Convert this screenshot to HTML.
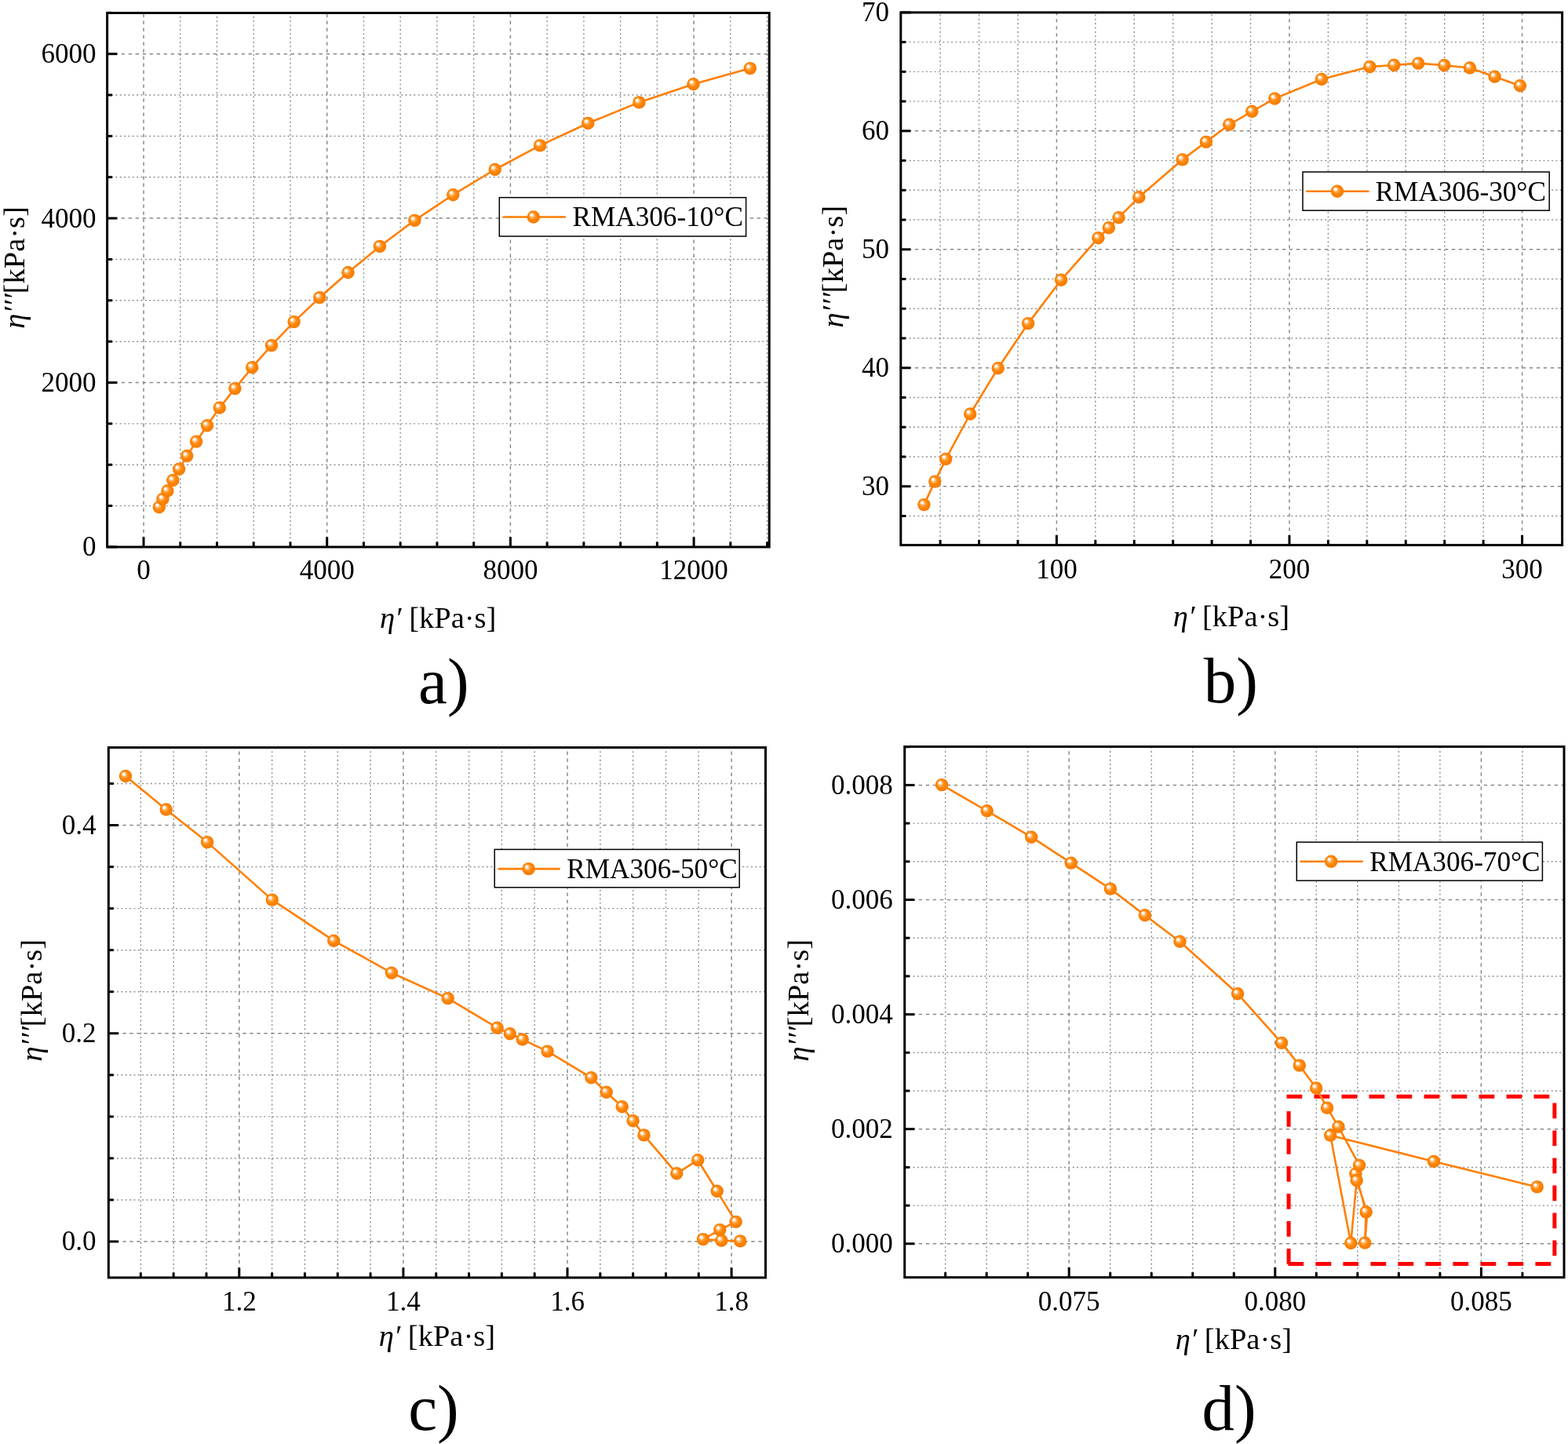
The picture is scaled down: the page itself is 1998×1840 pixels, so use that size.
<!DOCTYPE html>
<html><head><meta charset="utf-8"><title>Complex viscosity plots</title>
<style>
html,body{margin:0;padding:0;background:#fff;}
svg{display:block;}
text{font-family:"Liberation Serif","Times New Roman",serif;fill:#000;}
</style></head><body>
<svg width="1998" height="1840" viewBox="0 0 1998 1840">
<defs>
<radialGradient id="sg" cx="0.5" cy="0.5" r="0.5" fx="0.31" fy="0.3">
<stop offset="0" stop-color="#ffffff"/>
<stop offset="0.16" stop-color="#fffaf4"/>
<stop offset="0.4" stop-color="#ffa544"/>
<stop offset="0.62" stop-color="#ff8608"/>
<stop offset="1" stop-color="#f47a00"/>
</radialGradient>
<g id="mk"><circle r="8.2" fill="url(#sg)"/></g>
</defs>
<rect width="1998" height="1840" fill="#fff"/>
<g stroke="#949494" stroke-width="1.45" stroke-dasharray="2.1 3.25" fill="none"><line x1="229.74" y1="697" x2="229.74" y2="16.5"/><line x1="276.48" y1="697" x2="276.48" y2="16.5"/><line x1="323.22" y1="697" x2="323.22" y2="16.5"/><line x1="369.96" y1="697" x2="369.96" y2="16.5"/><line x1="463.44" y1="697" x2="463.44" y2="16.5"/><line x1="510.18" y1="697" x2="510.18" y2="16.5"/><line x1="556.92" y1="697" x2="556.92" y2="16.5"/><line x1="603.66" y1="697" x2="603.66" y2="16.5"/><line x1="697.14" y1="697" x2="697.14" y2="16.5"/><line x1="743.88" y1="697" x2="743.88" y2="16.5"/><line x1="790.62" y1="697" x2="790.62" y2="16.5"/><line x1="837.36" y1="697" x2="837.36" y2="16.5"/><line x1="930.84" y1="697" x2="930.84" y2="16.5"/><line x1="977.58" y1="697" x2="977.58" y2="16.5"/><line x1="136.6" y1="644.55" x2="980.2" y2="644.55"/><line x1="136.6" y1="592.2" x2="980.2" y2="592.2"/><line x1="136.6" y1="539.85" x2="980.2" y2="539.85"/><line x1="136.6" y1="435.15" x2="980.2" y2="435.15"/><line x1="136.6" y1="382.8" x2="980.2" y2="382.8"/><line x1="136.6" y1="330.45" x2="980.2" y2="330.45"/><line x1="136.6" y1="225.75" x2="980.2" y2="225.75"/><line x1="136.6" y1="173.4" x2="980.2" y2="173.4"/><line x1="136.6" y1="121.05" x2="980.2" y2="121.05"/><line x1="136.6" y1="16.35" x2="980.2" y2="16.35"/></g>
<g stroke="#8a8a8a" stroke-width="1.5" stroke-dasharray="4.4 4.6" fill="none"><line x1="183" y1="697" x2="183" y2="16.5"/><line x1="416.7" y1="697" x2="416.7" y2="16.5"/><line x1="650.4" y1="697" x2="650.4" y2="16.5"/><line x1="884.1" y1="697" x2="884.1" y2="16.5"/><line x1="136.6" y1="696.9" x2="980.2" y2="696.9"/><line x1="136.6" y1="487.5" x2="980.2" y2="487.5"/><line x1="136.6" y1="278.1" x2="980.2" y2="278.1"/><line x1="136.6" y1="68.7" x2="980.2" y2="68.7"/></g>
<polyline points="202.8,646.2 207.4,635.9 213.4,625.5 220.3,612 228.1,597.8 238.2,581 250.1,562.6 264,542.2 279.8,519.5 299.4,495.1 321.2,468.2 346,440.1 374.6,410.1 407.3,379.1 443.5,347.3 483.9,313.9 528.3,280.9 577.3,248.2 630.7,216 688.1,185.4 749.3,157 814.4,130.4 883.5,107.2 955.8,87.1" fill="none" stroke="#ff7f00" stroke-width="2.6" stroke-linejoin="round"/>
<use href="#mk" x="202.8" y="646.2"/>
<use href="#mk" x="207.4" y="635.9"/>
<use href="#mk" x="213.4" y="625.5"/>
<use href="#mk" x="220.3" y="612"/>
<use href="#mk" x="228.1" y="597.8"/>
<use href="#mk" x="238.2" y="581"/>
<use href="#mk" x="250.1" y="562.6"/>
<use href="#mk" x="264" y="542.2"/>
<use href="#mk" x="279.8" y="519.5"/>
<use href="#mk" x="299.4" y="495.1"/>
<use href="#mk" x="321.2" y="468.2"/>
<use href="#mk" x="346" y="440.1"/>
<use href="#mk" x="374.6" y="410.1"/>
<use href="#mk" x="407.3" y="379.1"/>
<use href="#mk" x="443.5" y="347.3"/>
<use href="#mk" x="483.9" y="313.9"/>
<use href="#mk" x="528.3" y="280.9"/>
<use href="#mk" x="577.3" y="248.2"/>
<use href="#mk" x="630.7" y="216"/>
<use href="#mk" x="688.1" y="185.4"/>
<use href="#mk" x="749.3" y="157"/>
<use href="#mk" x="814.4" y="130.4"/>
<use href="#mk" x="883.5" y="107.2"/>
<use href="#mk" x="955.8" y="87.1"/>
<rect x="136.6" y="16.5" width="843.6" height="680.5" fill="none" stroke="#000" stroke-width="3"/>
<g stroke="#000" stroke-width="3"><line x1="183" y1="697" x2="183" y2="684.3"/><line x1="416.7" y1="697" x2="416.7" y2="684.3"/><line x1="650.4" y1="697" x2="650.4" y2="684.3"/><line x1="884.1" y1="697" x2="884.1" y2="684.3"/><line x1="229.74" y1="697" x2="229.74" y2="690.5"/><line x1="276.48" y1="697" x2="276.48" y2="690.5"/><line x1="323.22" y1="697" x2="323.22" y2="690.5"/><line x1="369.96" y1="697" x2="369.96" y2="690.5"/><line x1="463.44" y1="697" x2="463.44" y2="690.5"/><line x1="510.18" y1="697" x2="510.18" y2="690.5"/><line x1="556.92" y1="697" x2="556.92" y2="690.5"/><line x1="603.66" y1="697" x2="603.66" y2="690.5"/><line x1="697.14" y1="697" x2="697.14" y2="690.5"/><line x1="743.88" y1="697" x2="743.88" y2="690.5"/><line x1="790.62" y1="697" x2="790.62" y2="690.5"/><line x1="837.36" y1="697" x2="837.36" y2="690.5"/><line x1="930.84" y1="697" x2="930.84" y2="690.5"/><line x1="977.58" y1="697" x2="977.58" y2="690.5"/><line x1="136.6" y1="696.9" x2="149.3" y2="696.9"/><line x1="136.6" y1="487.5" x2="149.3" y2="487.5"/><line x1="136.6" y1="278.1" x2="149.3" y2="278.1"/><line x1="136.6" y1="68.7" x2="149.3" y2="68.7"/><line x1="136.6" y1="644.55" x2="143.1" y2="644.55"/><line x1="136.6" y1="592.2" x2="143.1" y2="592.2"/><line x1="136.6" y1="539.85" x2="143.1" y2="539.85"/><line x1="136.6" y1="435.15" x2="143.1" y2="435.15"/><line x1="136.6" y1="382.8" x2="143.1" y2="382.8"/><line x1="136.6" y1="330.45" x2="143.1" y2="330.45"/><line x1="136.6" y1="225.75" x2="143.1" y2="225.75"/><line x1="136.6" y1="173.4" x2="143.1" y2="173.4"/><line x1="136.6" y1="121.05" x2="143.1" y2="121.05"/><line x1="136.6" y1="16.35" x2="143.1" y2="16.35"/></g>
<g font-size="35"><text x="183" y="738.1" text-anchor="middle">0</text><text x="416.7" y="738.1" text-anchor="middle">4000</text><text x="650.4" y="738.1" text-anchor="middle">8000</text><text x="884.1" y="738.1" text-anchor="middle">12000</text><text x="122.6" y="708.3" text-anchor="end">0</text><text x="122.6" y="498.9" text-anchor="end">2000</text><text x="122.6" y="289.5" text-anchor="end">4000</text><text x="122.6" y="80.1" text-anchor="end">6000</text></g>
<text x="484" y="800" font-size="38.5"><tspan font-style="italic">η′</tspan> [kPa·s]</text>
<text transform="translate(31,418.7) rotate(-90)" font-size="38.5"><tspan font-style="italic">η′′′</tspan>[kPa·s]</text>
<rect x="636.3" y="251.7" width="314.3" height="49.4" fill="#fff" stroke="#000" stroke-width="1.5"/>
<line x1="640.4" y1="276.5" x2="720.9" y2="276.5" stroke="#ff7f00" stroke-width="2.6"/>
<use href="#mk" x="679.8" y="276.5"/>
<text x="729.5" y="288.1" font-size="35.2">RMA306-10°C</text>
<text x="565.3" y="895.5" font-size="83" text-anchor="middle">a)</text>
<g stroke="#949494" stroke-width="1.45" stroke-dasharray="2.1 3.25" fill="none"><line x1="1198.11" y1="694.6" x2="1198.11" y2="15.9"/><line x1="1247.54" y1="694.6" x2="1247.54" y2="15.9"/><line x1="1296.97" y1="694.6" x2="1296.97" y2="15.9"/><line x1="1395.83" y1="694.6" x2="1395.83" y2="15.9"/><line x1="1445.26" y1="694.6" x2="1445.26" y2="15.9"/><line x1="1494.69" y1="694.6" x2="1494.69" y2="15.9"/><line x1="1544.12" y1="694.6" x2="1544.12" y2="15.9"/><line x1="1593.55" y1="694.6" x2="1593.55" y2="15.9"/><line x1="1692.41" y1="694.6" x2="1692.41" y2="15.9"/><line x1="1741.84" y1="694.6" x2="1741.84" y2="15.9"/><line x1="1791.27" y1="694.6" x2="1791.27" y2="15.9"/><line x1="1840.7" y1="694.6" x2="1840.7" y2="15.9"/><line x1="1890.13" y1="694.6" x2="1890.13" y2="15.9"/><line x1="1147.8" y1="53.64" x2="1990.6" y2="53.64"/><line x1="1147.8" y1="91.38" x2="1990.6" y2="91.38"/><line x1="1147.8" y1="129.12" x2="1990.6" y2="129.12"/><line x1="1147.8" y1="204.6" x2="1990.6" y2="204.6"/><line x1="1147.8" y1="242.34" x2="1990.6" y2="242.34"/><line x1="1147.8" y1="280.08" x2="1990.6" y2="280.08"/><line x1="1147.8" y1="355.56" x2="1990.6" y2="355.56"/><line x1="1147.8" y1="393.3" x2="1990.6" y2="393.3"/><line x1="1147.8" y1="431.04" x2="1990.6" y2="431.04"/><line x1="1147.8" y1="506.52" x2="1990.6" y2="506.52"/><line x1="1147.8" y1="544.26" x2="1990.6" y2="544.26"/><line x1="1147.8" y1="582" x2="1990.6" y2="582"/><line x1="1147.8" y1="657.48" x2="1990.6" y2="657.48"/></g>
<g stroke="#8a8a8a" stroke-width="1.5" stroke-dasharray="4.4 4.6" fill="none"><line x1="1346.4" y1="694.6" x2="1346.4" y2="15.9"/><line x1="1642.98" y1="694.6" x2="1642.98" y2="15.9"/><line x1="1939.56" y1="694.6" x2="1939.56" y2="15.9"/><line x1="1147.8" y1="15.9" x2="1990.6" y2="15.9"/><line x1="1147.8" y1="166.86" x2="1990.6" y2="166.86"/><line x1="1147.8" y1="317.82" x2="1990.6" y2="317.82"/><line x1="1147.8" y1="468.78" x2="1990.6" y2="468.78"/><line x1="1147.8" y1="619.74" x2="1990.6" y2="619.74"/></g>
<polyline points="1177.4,643.1 1191.3,613.6 1205.2,584.9 1236.2,527.5 1271.7,469.2 1310.1,412.1 1352.1,356.8 1399.4,303.2 1412.9,290.2 1425.5,277.2 1451.3,251.3 1506.6,203.4 1536.9,180.9 1566.3,158.8 1595.3,142 1624.3,125.6 1684,101 1745.4,85.1 1776.2,83 1807.2,80.6 1840.3,83.3 1872.9,86.5 1904.6,97.7 1936.9,109.3" fill="none" stroke="#ff7f00" stroke-width="2.6" stroke-linejoin="round"/>
<use href="#mk" x="1177.4" y="643.1"/>
<use href="#mk" x="1191.3" y="613.6"/>
<use href="#mk" x="1205.2" y="584.9"/>
<use href="#mk" x="1236.2" y="527.5"/>
<use href="#mk" x="1271.7" y="469.2"/>
<use href="#mk" x="1310.1" y="412.1"/>
<use href="#mk" x="1352.1" y="356.8"/>
<use href="#mk" x="1399.4" y="303.2"/>
<use href="#mk" x="1412.9" y="290.2"/>
<use href="#mk" x="1425.5" y="277.2"/>
<use href="#mk" x="1451.3" y="251.3"/>
<use href="#mk" x="1506.6" y="203.4"/>
<use href="#mk" x="1536.9" y="180.9"/>
<use href="#mk" x="1566.3" y="158.8"/>
<use href="#mk" x="1595.3" y="142"/>
<use href="#mk" x="1624.3" y="125.6"/>
<use href="#mk" x="1684" y="101"/>
<use href="#mk" x="1745.4" y="85.1"/>
<use href="#mk" x="1776.2" y="83"/>
<use href="#mk" x="1807.2" y="80.6"/>
<use href="#mk" x="1840.3" y="83.3"/>
<use href="#mk" x="1872.9" y="86.5"/>
<use href="#mk" x="1904.6" y="97.7"/>
<use href="#mk" x="1936.9" y="109.3"/>
<rect x="1147.8" y="15.9" width="842.8" height="678.7" fill="none" stroke="#000" stroke-width="3"/>
<g stroke="#000" stroke-width="3"><line x1="1346.4" y1="694.6" x2="1346.4" y2="681.9"/><line x1="1642.98" y1="694.6" x2="1642.98" y2="681.9"/><line x1="1939.56" y1="694.6" x2="1939.56" y2="681.9"/><line x1="1198.11" y1="694.6" x2="1198.11" y2="688.1"/><line x1="1247.54" y1="694.6" x2="1247.54" y2="688.1"/><line x1="1296.97" y1="694.6" x2="1296.97" y2="688.1"/><line x1="1395.83" y1="694.6" x2="1395.83" y2="688.1"/><line x1="1445.26" y1="694.6" x2="1445.26" y2="688.1"/><line x1="1494.69" y1="694.6" x2="1494.69" y2="688.1"/><line x1="1544.12" y1="694.6" x2="1544.12" y2="688.1"/><line x1="1593.55" y1="694.6" x2="1593.55" y2="688.1"/><line x1="1692.41" y1="694.6" x2="1692.41" y2="688.1"/><line x1="1741.84" y1="694.6" x2="1741.84" y2="688.1"/><line x1="1791.27" y1="694.6" x2="1791.27" y2="688.1"/><line x1="1840.7" y1="694.6" x2="1840.7" y2="688.1"/><line x1="1890.13" y1="694.6" x2="1890.13" y2="688.1"/><line x1="1147.8" y1="15.9" x2="1160.5" y2="15.9"/><line x1="1147.8" y1="166.86" x2="1160.5" y2="166.86"/><line x1="1147.8" y1="317.82" x2="1160.5" y2="317.82"/><line x1="1147.8" y1="468.78" x2="1160.5" y2="468.78"/><line x1="1147.8" y1="619.74" x2="1160.5" y2="619.74"/><line x1="1147.8" y1="53.64" x2="1154.3" y2="53.64"/><line x1="1147.8" y1="91.38" x2="1154.3" y2="91.38"/><line x1="1147.8" y1="129.12" x2="1154.3" y2="129.12"/><line x1="1147.8" y1="204.6" x2="1154.3" y2="204.6"/><line x1="1147.8" y1="242.34" x2="1154.3" y2="242.34"/><line x1="1147.8" y1="280.08" x2="1154.3" y2="280.08"/><line x1="1147.8" y1="355.56" x2="1154.3" y2="355.56"/><line x1="1147.8" y1="393.3" x2="1154.3" y2="393.3"/><line x1="1147.8" y1="431.04" x2="1154.3" y2="431.04"/><line x1="1147.8" y1="506.52" x2="1154.3" y2="506.52"/><line x1="1147.8" y1="544.26" x2="1154.3" y2="544.26"/><line x1="1147.8" y1="582" x2="1154.3" y2="582"/><line x1="1147.8" y1="657.48" x2="1154.3" y2="657.48"/></g>
<g font-size="35"><text x="1346.4" y="736.6" text-anchor="middle">100</text><text x="1642.98" y="736.6" text-anchor="middle">200</text><text x="1939.56" y="736.6" text-anchor="middle">300</text><text x="1133" y="27.3" text-anchor="end">70</text><text x="1133" y="178.26" text-anchor="end">60</text><text x="1133" y="329.22" text-anchor="end">50</text><text x="1133" y="480.18" text-anchor="end">40</text><text x="1133" y="631.14" text-anchor="end">30</text></g>
<text x="1494.8" y="798" font-size="38.5"><tspan font-style="italic">η′</tspan> [kPa·s]</text>
<text transform="translate(1074.4,417.5) rotate(-90)" font-size="38.5"><tspan font-style="italic">η′′′</tspan>[kPa·s]</text>
<rect x="1660" y="219.1" width="314.2" height="49.1" fill="#fff" stroke="#000" stroke-width="1.5"/>
<line x1="1664.2" y1="243.7" x2="1744.5" y2="243.7" stroke="#ff7f00" stroke-width="2.6"/>
<use href="#mk" x="1704" y="243.7"/>
<text x="1752.5" y="256.2" font-size="35.2">RMA306-30°C</text>
<text x="1568.3" y="895" font-size="83" text-anchor="middle">b)</text>
<g stroke="#949494" stroke-width="1.45" stroke-dasharray="2.1 3.25" fill="none"><line x1="179.34" y1="1628" x2="179.34" y2="952.5"/><line x1="221.16" y1="1628" x2="221.16" y2="952.5"/><line x1="262.98" y1="1628" x2="262.98" y2="952.5"/><line x1="346.62" y1="1628" x2="346.62" y2="952.5"/><line x1="388.44" y1="1628" x2="388.44" y2="952.5"/><line x1="430.26" y1="1628" x2="430.26" y2="952.5"/><line x1="472.08" y1="1628" x2="472.08" y2="952.5"/><line x1="555.72" y1="1628" x2="555.72" y2="952.5"/><line x1="597.54" y1="1628" x2="597.54" y2="952.5"/><line x1="639.36" y1="1628" x2="639.36" y2="952.5"/><line x1="681.18" y1="1628" x2="681.18" y2="952.5"/><line x1="764.82" y1="1628" x2="764.82" y2="952.5"/><line x1="806.64" y1="1628" x2="806.64" y2="952.5"/><line x1="848.46" y1="1628" x2="848.46" y2="952.5"/><line x1="890.28" y1="1628" x2="890.28" y2="952.5"/><line x1="138.3" y1="1528.95" x2="975.5" y2="1528.95"/><line x1="138.3" y1="1475.9" x2="975.5" y2="1475.9"/><line x1="138.3" y1="1422.85" x2="975.5" y2="1422.85"/><line x1="138.3" y1="1369.8" x2="975.5" y2="1369.8"/><line x1="138.3" y1="1263.7" x2="975.5" y2="1263.7"/><line x1="138.3" y1="1210.65" x2="975.5" y2="1210.65"/><line x1="138.3" y1="1157.6" x2="975.5" y2="1157.6"/><line x1="138.3" y1="1104.55" x2="975.5" y2="1104.55"/><line x1="138.3" y1="998.45" x2="975.5" y2="998.45"/></g>
<g stroke="#8a8a8a" stroke-width="1.5" stroke-dasharray="4.4 4.6" fill="none"><line x1="304.8" y1="1628" x2="304.8" y2="952.5"/><line x1="513.9" y1="1628" x2="513.9" y2="952.5"/><line x1="723" y1="1628" x2="723" y2="952.5"/><line x1="932.1" y1="1628" x2="932.1" y2="952.5"/><line x1="138.3" y1="1582" x2="975.5" y2="1582"/><line x1="138.3" y1="1316.75" x2="975.5" y2="1316.75"/><line x1="138.3" y1="1051.5" x2="975.5" y2="1051.5"/></g>
<polyline points="160,989 211.7,1031.5 264.1,1073.1 346.8,1146.6 425.3,1198.7 499,1239.7 570.7,1272.1 633.6,1309.7 649.8,1317.3 665.8,1324.5 697.6,1339.6 753.3,1373.2 772.7,1391.8 792.7,1410.2 806.6,1428.3 820.5,1446.4 862.3,1495.3 889.2,1478.2 913.7,1517.8 937.6,1556.9 917.3,1567.1 896,1579.1 919.3,1580.8 943.2,1581.4" fill="none" stroke="#ff7f00" stroke-width="2.6" stroke-linejoin="round"/>
<use href="#mk" x="160" y="989"/>
<use href="#mk" x="211.7" y="1031.5"/>
<use href="#mk" x="264.1" y="1073.1"/>
<use href="#mk" x="346.8" y="1146.6"/>
<use href="#mk" x="425.3" y="1198.7"/>
<use href="#mk" x="499" y="1239.7"/>
<use href="#mk" x="570.7" y="1272.1"/>
<use href="#mk" x="633.6" y="1309.7"/>
<use href="#mk" x="649.8" y="1317.3"/>
<use href="#mk" x="665.8" y="1324.5"/>
<use href="#mk" x="697.6" y="1339.6"/>
<use href="#mk" x="753.3" y="1373.2"/>
<use href="#mk" x="772.7" y="1391.8"/>
<use href="#mk" x="792.7" y="1410.2"/>
<use href="#mk" x="806.6" y="1428.3"/>
<use href="#mk" x="820.5" y="1446.4"/>
<use href="#mk" x="862.3" y="1495.3"/>
<use href="#mk" x="889.2" y="1478.2"/>
<use href="#mk" x="913.7" y="1517.8"/>
<use href="#mk" x="937.6" y="1556.9"/>
<use href="#mk" x="917.3" y="1567.1"/>
<use href="#mk" x="896" y="1579.1"/>
<use href="#mk" x="919.3" y="1580.8"/>
<use href="#mk" x="943.2" y="1581.4"/>
<rect x="138.3" y="952.5" width="837.2" height="675.5" fill="none" stroke="#000" stroke-width="3"/>
<g stroke="#000" stroke-width="3"><line x1="304.8" y1="1628" x2="304.8" y2="1615.3"/><line x1="513.9" y1="1628" x2="513.9" y2="1615.3"/><line x1="723" y1="1628" x2="723" y2="1615.3"/><line x1="932.1" y1="1628" x2="932.1" y2="1615.3"/><line x1="179.34" y1="1628" x2="179.34" y2="1621.5"/><line x1="221.16" y1="1628" x2="221.16" y2="1621.5"/><line x1="262.98" y1="1628" x2="262.98" y2="1621.5"/><line x1="346.62" y1="1628" x2="346.62" y2="1621.5"/><line x1="388.44" y1="1628" x2="388.44" y2="1621.5"/><line x1="430.26" y1="1628" x2="430.26" y2="1621.5"/><line x1="472.08" y1="1628" x2="472.08" y2="1621.5"/><line x1="555.72" y1="1628" x2="555.72" y2="1621.5"/><line x1="597.54" y1="1628" x2="597.54" y2="1621.5"/><line x1="639.36" y1="1628" x2="639.36" y2="1621.5"/><line x1="681.18" y1="1628" x2="681.18" y2="1621.5"/><line x1="764.82" y1="1628" x2="764.82" y2="1621.5"/><line x1="806.64" y1="1628" x2="806.64" y2="1621.5"/><line x1="848.46" y1="1628" x2="848.46" y2="1621.5"/><line x1="890.28" y1="1628" x2="890.28" y2="1621.5"/><line x1="138.3" y1="1582" x2="151" y2="1582"/><line x1="138.3" y1="1316.75" x2="151" y2="1316.75"/><line x1="138.3" y1="1051.5" x2="151" y2="1051.5"/><line x1="138.3" y1="1528.95" x2="144.8" y2="1528.95"/><line x1="138.3" y1="1475.9" x2="144.8" y2="1475.9"/><line x1="138.3" y1="1422.85" x2="144.8" y2="1422.85"/><line x1="138.3" y1="1369.8" x2="144.8" y2="1369.8"/><line x1="138.3" y1="1263.7" x2="144.8" y2="1263.7"/><line x1="138.3" y1="1210.65" x2="144.8" y2="1210.65"/><line x1="138.3" y1="1157.6" x2="144.8" y2="1157.6"/><line x1="138.3" y1="1104.55" x2="144.8" y2="1104.55"/><line x1="138.3" y1="998.45" x2="144.8" y2="998.45"/></g>
<g font-size="35"><text x="304.8" y="1669.6" text-anchor="middle">1.2</text><text x="513.9" y="1669.6" text-anchor="middle">1.4</text><text x="723" y="1669.6" text-anchor="middle">1.6</text><text x="932.1" y="1669.6" text-anchor="middle">1.8</text><text x="122.6" y="1593.4" text-anchor="end">0.0</text><text x="122.6" y="1328.15" text-anchor="end">0.2</text><text x="122.6" y="1062.9" text-anchor="end">0.4</text></g>
<text x="482.7" y="1714.8" font-size="38.5"><tspan font-style="italic">η′</tspan> [kPa·s]</text>
<text transform="translate(53.3,1352.5) rotate(-90)" font-size="38.5"><tspan font-style="italic">η′′′</tspan>[kPa·s]</text>
<rect x="630.2" y="1082.4" width="312" height="48.4" fill="#fff" stroke="#000" stroke-width="1.5"/>
<line x1="634.5" y1="1107.1" x2="713.6" y2="1107.1" stroke="#ff7f00" stroke-width="2.6"/>
<use href="#mk" x="673.6" y="1107.1"/>
<text x="722.3" y="1119.4" font-size="35.2">RMA306-50°C</text>
<text x="552.4" y="1822" font-size="83" text-anchor="middle">c)</text>
<g stroke="#949494" stroke-width="1.45" stroke-dasharray="2.1 3.25" fill="none"><line x1="1204.64" y1="1627.7" x2="1204.64" y2="951.4"/><line x1="1257.16" y1="1627.7" x2="1257.16" y2="951.4"/><line x1="1309.68" y1="1627.7" x2="1309.68" y2="951.4"/><line x1="1414.72" y1="1627.7" x2="1414.72" y2="951.4"/><line x1="1467.24" y1="1627.7" x2="1467.24" y2="951.4"/><line x1="1519.76" y1="1627.7" x2="1519.76" y2="951.4"/><line x1="1572.28" y1="1627.7" x2="1572.28" y2="951.4"/><line x1="1677.32" y1="1627.7" x2="1677.32" y2="951.4"/><line x1="1729.84" y1="1627.7" x2="1729.84" y2="951.4"/><line x1="1782.36" y1="1627.7" x2="1782.36" y2="951.4"/><line x1="1834.88" y1="1627.7" x2="1834.88" y2="951.4"/><line x1="1939.92" y1="1627.7" x2="1939.92" y2="951.4"/><line x1="1152.7" y1="1536.1" x2="1993" y2="1536.1"/><line x1="1152.7" y1="1487.4" x2="1993" y2="1487.4"/><line x1="1152.7" y1="1390" x2="1993" y2="1390"/><line x1="1152.7" y1="1341.3" x2="1993" y2="1341.3"/><line x1="1152.7" y1="1243.9" x2="1993" y2="1243.9"/><line x1="1152.7" y1="1195.2" x2="1993" y2="1195.2"/><line x1="1152.7" y1="1097.8" x2="1993" y2="1097.8"/><line x1="1152.7" y1="1049.1" x2="1993" y2="1049.1"/><line x1="1152.7" y1="951.7" x2="1993" y2="951.7"/></g>
<g stroke="#8a8a8a" stroke-width="1.5" stroke-dasharray="4.4 4.6" fill="none"><line x1="1362.2" y1="1627.7" x2="1362.2" y2="951.4"/><line x1="1624.8" y1="1627.7" x2="1624.8" y2="951.4"/><line x1="1887.4" y1="1627.7" x2="1887.4" y2="951.4"/><line x1="1152.7" y1="1584.8" x2="1993" y2="1584.8"/><line x1="1152.7" y1="1438.7" x2="1993" y2="1438.7"/><line x1="1152.7" y1="1292.6" x2="1993" y2="1292.6"/><line x1="1152.7" y1="1146.5" x2="1993" y2="1146.5"/><line x1="1152.7" y1="1000.4" x2="1993" y2="1000.4"/></g>
<g stroke="#ff0000" stroke-width="5" stroke-dasharray="19.8 15.2" fill="none"><line x1="1639.5" y1="1397.3" x2="1983.4" y2="1397.3"/><line x1="1980.9" y1="1405.4" x2="1980.9" y2="1613"/><line x1="1641.4" y1="1610.6" x2="1983.4" y2="1610.6"/><line x1="1642.1" y1="1416" x2="1642.1" y2="1613.1"/></g>
<polyline points="1200.1,1000.1 1257.7,1033.3 1314.2,1066.7 1364.8,1099.6 1414.9,1132.6 1458.9,1166.2 1503.5,1199.8 1577.1,1266.3 1633,1328.9 1655.8,1357.6 1677.2,1386.5 1691.1,1411.6 1705.4,1435.7 1732.1,1484.9 1727.4,1495.7 1740.7,1544.4 1739.2,1583.6 1742.2,1545.2 1728.7,1504.3 1721.3,1584 1695.2,1446.8 1827,1479.9 1958.7,1512.4" fill="none" stroke="#ff7f00" stroke-width="2.6" stroke-linejoin="round"/>
<use href="#mk" x="1200.1" y="1000.1"/>
<use href="#mk" x="1257.7" y="1033.3"/>
<use href="#mk" x="1314.2" y="1066.7"/>
<use href="#mk" x="1364.8" y="1099.6"/>
<use href="#mk" x="1414.9" y="1132.6"/>
<use href="#mk" x="1458.9" y="1166.2"/>
<use href="#mk" x="1503.5" y="1199.8"/>
<use href="#mk" x="1577.1" y="1266.3"/>
<use href="#mk" x="1633" y="1328.9"/>
<use href="#mk" x="1655.8" y="1357.6"/>
<use href="#mk" x="1677.2" y="1386.5"/>
<use href="#mk" x="1691.1" y="1411.6"/>
<use href="#mk" x="1705.4" y="1435.7"/>
<use href="#mk" x="1695.2" y="1446.8"/>
<use href="#mk" x="1727.4" y="1495.7"/>
<use href="#mk" x="1728.7" y="1504.3"/>
<use href="#mk" x="1732.1" y="1484.9"/>
<use href="#mk" x="1740.7" y="1544.4"/>
<use href="#mk" x="1739.2" y="1583.6"/>
<use href="#mk" x="1721.3" y="1584"/>
<use href="#mk" x="1827" y="1479.9"/>
<use href="#mk" x="1958.7" y="1512.4"/>
<rect x="1152.7" y="951.4" width="840.3" height="676.3" fill="none" stroke="#000" stroke-width="3"/>
<g stroke="#000" stroke-width="3"><line x1="1362.2" y1="1627.7" x2="1362.2" y2="1615"/><line x1="1624.8" y1="1627.7" x2="1624.8" y2="1615"/><line x1="1887.4" y1="1627.7" x2="1887.4" y2="1615"/><line x1="1204.64" y1="1627.7" x2="1204.64" y2="1621.2"/><line x1="1257.16" y1="1627.7" x2="1257.16" y2="1621.2"/><line x1="1309.68" y1="1627.7" x2="1309.68" y2="1621.2"/><line x1="1414.72" y1="1627.7" x2="1414.72" y2="1621.2"/><line x1="1467.24" y1="1627.7" x2="1467.24" y2="1621.2"/><line x1="1519.76" y1="1627.7" x2="1519.76" y2="1621.2"/><line x1="1572.28" y1="1627.7" x2="1572.28" y2="1621.2"/><line x1="1677.32" y1="1627.7" x2="1677.32" y2="1621.2"/><line x1="1729.84" y1="1627.7" x2="1729.84" y2="1621.2"/><line x1="1782.36" y1="1627.7" x2="1782.36" y2="1621.2"/><line x1="1834.88" y1="1627.7" x2="1834.88" y2="1621.2"/><line x1="1939.92" y1="1627.7" x2="1939.92" y2="1621.2"/><line x1="1152.7" y1="1584.8" x2="1165.4" y2="1584.8"/><line x1="1152.7" y1="1438.7" x2="1165.4" y2="1438.7"/><line x1="1152.7" y1="1292.6" x2="1165.4" y2="1292.6"/><line x1="1152.7" y1="1146.5" x2="1165.4" y2="1146.5"/><line x1="1152.7" y1="1000.4" x2="1165.4" y2="1000.4"/><line x1="1152.7" y1="1536.1" x2="1159.2" y2="1536.1"/><line x1="1152.7" y1="1487.4" x2="1159.2" y2="1487.4"/><line x1="1152.7" y1="1390" x2="1159.2" y2="1390"/><line x1="1152.7" y1="1341.3" x2="1159.2" y2="1341.3"/><line x1="1152.7" y1="1243.9" x2="1159.2" y2="1243.9"/><line x1="1152.7" y1="1195.2" x2="1159.2" y2="1195.2"/><line x1="1152.7" y1="1097.8" x2="1159.2" y2="1097.8"/><line x1="1152.7" y1="1049.1" x2="1159.2" y2="1049.1"/><line x1="1152.7" y1="951.7" x2="1159.2" y2="951.7"/></g>
<g font-size="35"><text x="1362.2" y="1669.6" text-anchor="middle">0.075</text><text x="1624.8" y="1669.6" text-anchor="middle">0.080</text><text x="1887.4" y="1669.6" text-anchor="middle">0.085</text><text x="1137.7" y="1596.2" text-anchor="end">0.000</text><text x="1137.7" y="1450.1" text-anchor="end">0.002</text><text x="1137.7" y="1304" text-anchor="end">0.004</text><text x="1137.7" y="1157.9" text-anchor="end">0.006</text><text x="1137.7" y="1011.8" text-anchor="end">0.008</text></g>
<text x="1497.7" y="1719" font-size="38.5"><tspan font-style="italic">η′</tspan> [kPa·s]</text>
<text transform="translate(1030.1,1352.5) rotate(-90)" font-size="38.5"><tspan font-style="italic">η′′′</tspan>[kPa·s]</text>
<rect x="1652.3" y="1073.1" width="313.1" height="49" fill="#fff" stroke="#000" stroke-width="1.5"/>
<line x1="1656.5" y1="1097.8" x2="1736.7" y2="1097.8" stroke="#ff7f00" stroke-width="2.6"/>
<use href="#mk" x="1696.2" y="1097.8"/>
<text x="1745.2" y="1109.7" font-size="35.2">RMA306-70°C</text>
<text x="1566" y="1822" font-size="83" text-anchor="middle">d)</text>
</svg>
</body></html>
